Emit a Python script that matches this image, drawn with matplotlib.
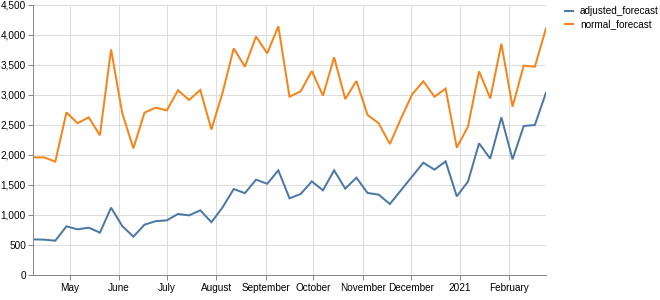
import matplotlib
matplotlib.use("Agg")
import matplotlib.pyplot as plt
import matplotlib.dates as mdates
from matplotlib.lines import Line2D
import pandas as pd

start_date = "2020-04-08"
adjusted_forecast = [594, 589, 572, 811, 761, 789, 706, 1122, 817, 639,
                     839, 897, 911, 1017, 994, 1078, 880, 1128, 1433, 1364,
                     1589, 1520, 1744, 1278, 1350, 1560, 1411, 1744, 1439, 1622,
                     1367, 1339, 1183, 1413, 1643, 1872, 1756, 1894, 1311, 1556,
                     2194, 1939, 2628, 1928, 2483, 2500, 3039]
normal_forecast = [1961, 1961, 1889, 2710, 2530, 2628, 2328, 3760, 2697, 2111,
                   2706, 2789, 2744, 3078, 2917, 3083, 2425, 3040, 3778, 3472,
                   3975, 3694, 4145, 2972, 3061, 3400, 2989, 3628, 2933, 3233,
                   2667, 2528, 2183, 2610, 3011, 3228, 2972, 3106, 2122, 2472,
                   3394, 2944, 3855, 2806, 3489, 3472, 4110]
series_names = ["adjusted_forecast", "normal_forecast"]
colors = ["#4c78a8", "#f58518"]
y_ticks = list(range(0, 4501, 500))

dates = pd.date_range(start_date, periods=len(normal_forecast), freq="7D")

PX = 72 / 100  # points per pixel at dpi 100
plt.rcParams['font.family'] = ['Liberation Sans', 'DejaVu Sans']
W, H = 660, 300
fig = plt.figure(figsize=(W/100, H/100), dpi=100)
ax = fig.add_axes([33/W, 25/H, 513/W, 270/H])

for name, vals, c in zip(series_names, [adjusted_forecast, normal_forecast], colors):
    ax.plot(dates, vals, color=c, lw=2*PX, label=name, solid_joinstyle='miter')

ax.set_xlim(dates[0], dates[-1])
ax.set_ylim(0, 4500)
ax.set_yticks(y_ticks)
ax.yaxis.set_major_formatter(matplotlib.ticker.FuncFormatter(lambda v, p: f"{int(v):,}"))
ax.xaxis.set_major_locator(mdates.MonthLocator())

def fmt_date(v, p):
    d = mdates.num2date(v)
    return str(d.year) if d.month == 1 else d.strftime("%B")
ax.xaxis.set_major_formatter(matplotlib.ticker.FuncFormatter(fmt_date))

ax.grid(True, color="#dddddd", lw=1*PX)
ax.set_axisbelow(True)
for s in ["top", "right"]:
    ax.spines[s].set_visible(False)
for s in ["left", "bottom"]:
    ax.spines[s].set_color("#888888")
    ax.spines[s].set_linewidth(1*PX)
ax.tick_params(axis="both", colors="#888888", length=5*PX, width=1*PX, labelsize=10*PX,
               labelcolor="black", pad=2*PX)
ax.tick_params(axis="x", pad=3*PX)

# legend (drawn manually in figure pixel space)
for i, (name, c) in enumerate(zip(series_names, colors)):
    yc = 1 - (11 + 13 * i) / H
    fig.add_artist(Line2D([565/W, 573/W], [yc, yc], color=c, lw=2*PX,
                          transform=fig.transFigure))
    fig.text(580/W, yc, name, fontsize=10*PX, va="center", ha="left", color="black")

fig.savefig("out.png", dpi=100)
